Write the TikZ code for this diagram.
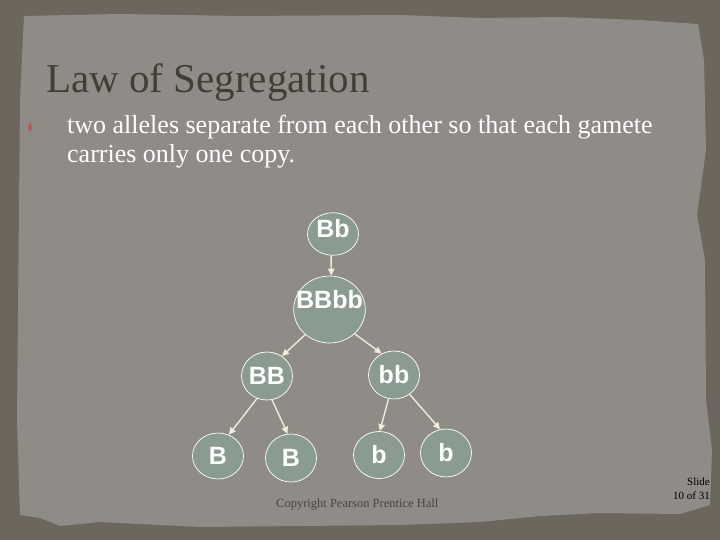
\documentclass[tikz,border=0pt]{standalone}
\usepackage{fontspec}
\usepackage{xcolor}
\usepackage{tikz}
\usetikzlibrary{shapes.geometric,arrows.meta}
\setmainfont{Liberation Serif}
\newfontfamily\allelefont{Liberation Sans}
\definecolor{frame}{HTML}{6C665D}
\definecolor{paper}{HTML}{8F8B87}
\definecolor{cell}{HTML}{8A9B8F}
\definecolor{splitcol}{HTML}{EFEBD7}
\definecolor{titlecol}{HTML}{433D36}
\definecolor{notecol}{HTML}{4A443C}

\begin{document}
\begin{tikzpicture}[x=1pt,y=-1pt,
		allele/.style={ellipse, draw=white, line width=0.7pt, fill=cell, text=white, inner sep=0pt,
			font=\allelefont\bfseries\fontsize{25}{25}\selectfont, minimum width=51pt, minimum height=47pt},
		split/.style={draw=splitcol, line width=1.4pt, -{Triangle[length=7pt,width=6.5pt]}},
		slidetext/.style={inner sep=0pt, anchor=base west}]
				\fill[frame] (0,0) rectangle (720,540);
				\useasboundingbox (0,0) rectangle (720,540);
	
				\fill[paper] (24,16) -- (120,14) -- (240,16) -- (400,15) -- (480,18) -- (560,17) -- (640,20) -- (698,24) -- (704,60) -- (706,150) -- (697,215) -- (705,260) -- (706,400) -- (712,450) -- (710,505) -- (680,514) -- (600,513) -- (540,516) -- (480,522) -- (400,525) -- (300,526) -- (200,527) -- (100,522) -- (60,526) -- (40,518) -- (20,515) -- (17,420) -- (20,100) -- cycle;
	
				\node[slidetext, text=titlecol, font=\fontsize{41}{41}\selectfont] (title) at (46,93) {Law of Segregation};
				\fill[red!35!paper] (30,127) ellipse (1.8pt and 5pt);
				\node[slidetext, text=white, font=\fontsize{26}{26}\selectfont] (line1) at (67,134) {two alleles separate from each other so that each gamete};
				\node[slidetext, text=white, font=\fontsize{26}{26}\selectfont] (line2) at (67,163) {carries only one copy.};
	
				\node[allele, minimum height=39pt, text depth=12pt] (Bb) at (333,234) {Bb};
				\node[allele, minimum width=71pt, minimum height=67pt, inner xsep=-8pt, text height=18pt, text depth=21pt] (BBbb) at (329.5,309.5) {BBbb};
				\node[allele, minimum height=48pt, inner xsep=-2pt] (BB) at (267,376) {BB};
				\node[allele, minimum height=48pt] (bb) at (394,375) {bb};
				\node[allele, minimum height=46pt] (B1) at (218,456) {B};
				\node[allele, minimum height=48pt] (B2) at (291,458) {B};
				\node[allele] (b1) at (379,455) {b};
				\node[allele, minimum height=48pt] (b2) at (446,453) {b};
	
				\draw[split] (Bb.265) -- (BBbb.87);
				\draw[split] (BBbb.226) -- (BB.53);
				\draw[split] (BBbb.316) -- (bb.120);
				\draw[split] (BB.246) -- (B1.63);
				\draw[split] (BB.282) -- (B2.98);
				\draw[split] (bb.257) -- (b1.88);
				\draw[split] (bb.309) -- (b2.104);
	
				\node[slidetext, text=notecol, font=\fontsize{12.5}{12.5}\selectfont] (copyright) at (276,507) {Copyright Pearson Prentice Hall};
				\node[inner sep=0pt, anchor=base east, font=\fontsize{11}{11}\selectfont] (slide) at (710,485) {Slide};
				\node[inner sep=0pt, anchor=base east, font=\fontsize{11}{11}\selectfont] (slideno) at (710,499) {10 of 31};
			\end{tikzpicture}
\end{document}
